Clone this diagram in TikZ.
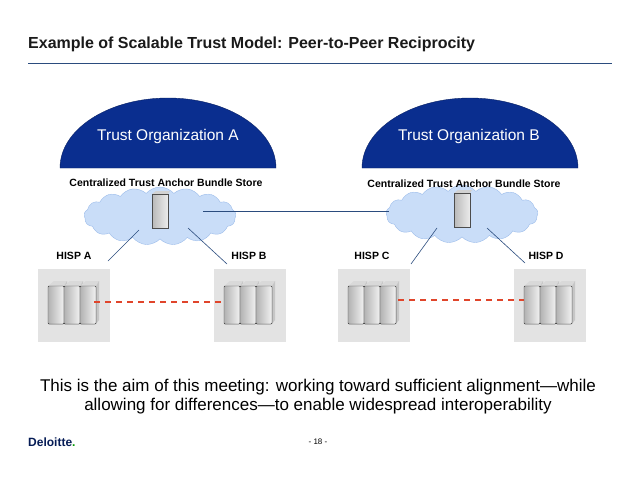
\documentclass[tikz,border=0pt]{standalone}
\usepackage{fontspec}
\setmainfont{Liberation Sans}
\usetikzlibrary{shapes.symbols}
\definecolor{navy}{HTML}{0A2E8F}
\definecolor{cloudf}{HTML}{C9DDF8}
\definecolor{cloudd}{HTML}{9DBDEB}
\definecolor{lnk}{HTML}{2B4C7E}
\definecolor{rackbg}{HTML}{E3E3E3}
\definecolor{dred}{HTML}{E0452B}
\definecolor{ttl}{HTML}{1A1A1A}
\tikzset{
  dome/.style={fill=navy,draw=navy!70!black},
  orgtxt/.style={text=white,font=\fontsize{15.5}{18}\selectfont},
  lbl/.style={font=\bfseries\fontsize{10.5}{12}\selectfont,inner sep=0},
  cld/.style={cloud,cloud puffs=17,cloud puff arc=100,aspect=2.6,fill=cloudf,draw=cloudd,minimum width=152pt,minimum height=58pt},
  link/.style={draw=lnk,line width=0.6pt},
  dashr/.style={draw=dred,line width=1.6pt,dash pattern=on 6pt off 5pt},
  rack/.style={fill=rackbg,draw=none,minimum width=72pt,minimum height=73pt},
}
\newcommand{\srv}[2]{%
 \fill[gray!35] (#1-8,#2-17) -- (#1-4,#2-20) -- (#1+10,#2-20) -- (#1+8,#2-17) -- cycle;
 \fill[left color=gray!55,right color=gray!15] (#1-8,#2-17) rectangle (#1+8,#2+17);
 \draw[gray!60!black,line width=0.4pt] (#1-8,#2-17) rectangle (#1+8,#2+17);}
\newcommand{\rackset}[2]{%
 \foreach \d in {-18,-2,14}{%
   \fill[gray!30] (#1+\d-8,#2-18) -- (#1+\d-2,#2-23) -- (#1+\d+11,#2-23) -- (#1+\d+8,#2-18) -- cycle;
   \fill[gray!45] (#1+\d+8,#2-18) -- (#1+\d+11,#2-23) -- (#1+\d+11,#2+16) -- (#1+\d+8,#2+20) -- cycle;
   \fill[left color=gray!60,right color=gray!10,rounded corners=1pt] (#1+\d-8,#2-18) rectangle (#1+\d+8,#2+20);
   \draw[gray!50!black,line width=0.4pt,rounded corners=1pt] (#1+\d-8,#2-18) rectangle (#1+\d+8,#2+20);}}
\begin{document}
\begin{tikzpicture}[x=1pt,y=-1pt]
\useasboundingbox (0,0) rectangle (638,479);
\fill[white] (0,0) rectangle (638,479);
\node[anchor=base west,font=\bfseries\fontsize{16}{19}\selectfont,text=ttl,inner sep=0] (title) at (28,48) {Example of Scalable Trust Model: Peer-to-Peer Reciprocity};
\draw[draw=lnk,line width=1pt] (28,63) -- (612,63);
% domes
\fill[dome] (60,168) arc[start angle=180,end angle=360,x radius=108,y radius=70] -- cycle;
\fill[dome] (362,168) arc[start angle=180,end angle=360,x radius=108,y radius=70] -- cycle;
\node[orgtxt] (orgA) at (168,136) {Trust Organization A};
\node[orgtxt] (orgB) at (469,136) {Trust Organization B};
% clouds
\node[cld] (cA) at (160,216) {};
\node[cld] (cB) at (462,214) {};
\node[lbl] (sA) at (166,183) {Centralized Trust Anchor Bundle Store};
\node[lbl] (sB) at (464,184) {Centralized Trust Anchor Bundle Store};
\srv{160}{211}
\srv{462}{210}
\coordinate (sAe) at (203,211);
\coordinate (sBw) at (389,211);
\draw[link] (sAe) -- (sBw);
% racks
\node[rack] (rA) at (74,305) {};
\node[rack] (rB) at (250,305) {};
\node[rack] (rC) at (374,305) {};
\node[rack] (rD) at (550,305) {};
\rackset{74}{304}
\rackset{250}{304}
\rackset{374}{304}
\rackset{550}{304}
\node[lbl] (hA) at (74,256) {HISP A};
\node[lbl] (hB) at (249,256) {HISP B};
\node[lbl] (hC) at (372,256) {HISP C};
\node[lbl] (hD) at (546,256) {HISP D};
\coordinate (a1) at (139,230); \coordinate (a2) at (108,261);
\coordinate (b1) at (188,228); \coordinate (b2) at (227,264);
\coordinate (c1) at (437,228); \coordinate (c2) at (411,264);
\coordinate (d1) at (487,228); \coordinate (d2) at (525,263);
\draw[link] (a1) -- (a2); \draw[link] (b1) -- (b2);
\draw[link] (c1) -- (c2); \draw[link] (d1) -- (d2);
\coordinate (pA) at (94,302); \coordinate (pB) at (224,302);
\coordinate (pC) at (398,300); \coordinate (pD) at (524,300);
\draw[dashr] (pA) -- (pB);
\draw[dashr] (pC) -- (pD);
\node[align=center,font=\fontsize{17}{19}\selectfont] (aim) at (318,397) {This is the aim of this meeting: working toward sufficient alignment—while\\allowing for differences—to enable widespread interoperability};
\node[anchor=base west,inner sep=0,font=\bfseries\fontsize{12}{14}\selectfont,text=navy!60!black] (logo) at (28,446) {Deloitte\textcolor{green!60!black}{.}};
\node[anchor=base,inner sep=0,font=\fontsize{8}{9}\selectfont] (pg) at (318,444) {- 18 -};
\end{tikzpicture}
\end{document}
